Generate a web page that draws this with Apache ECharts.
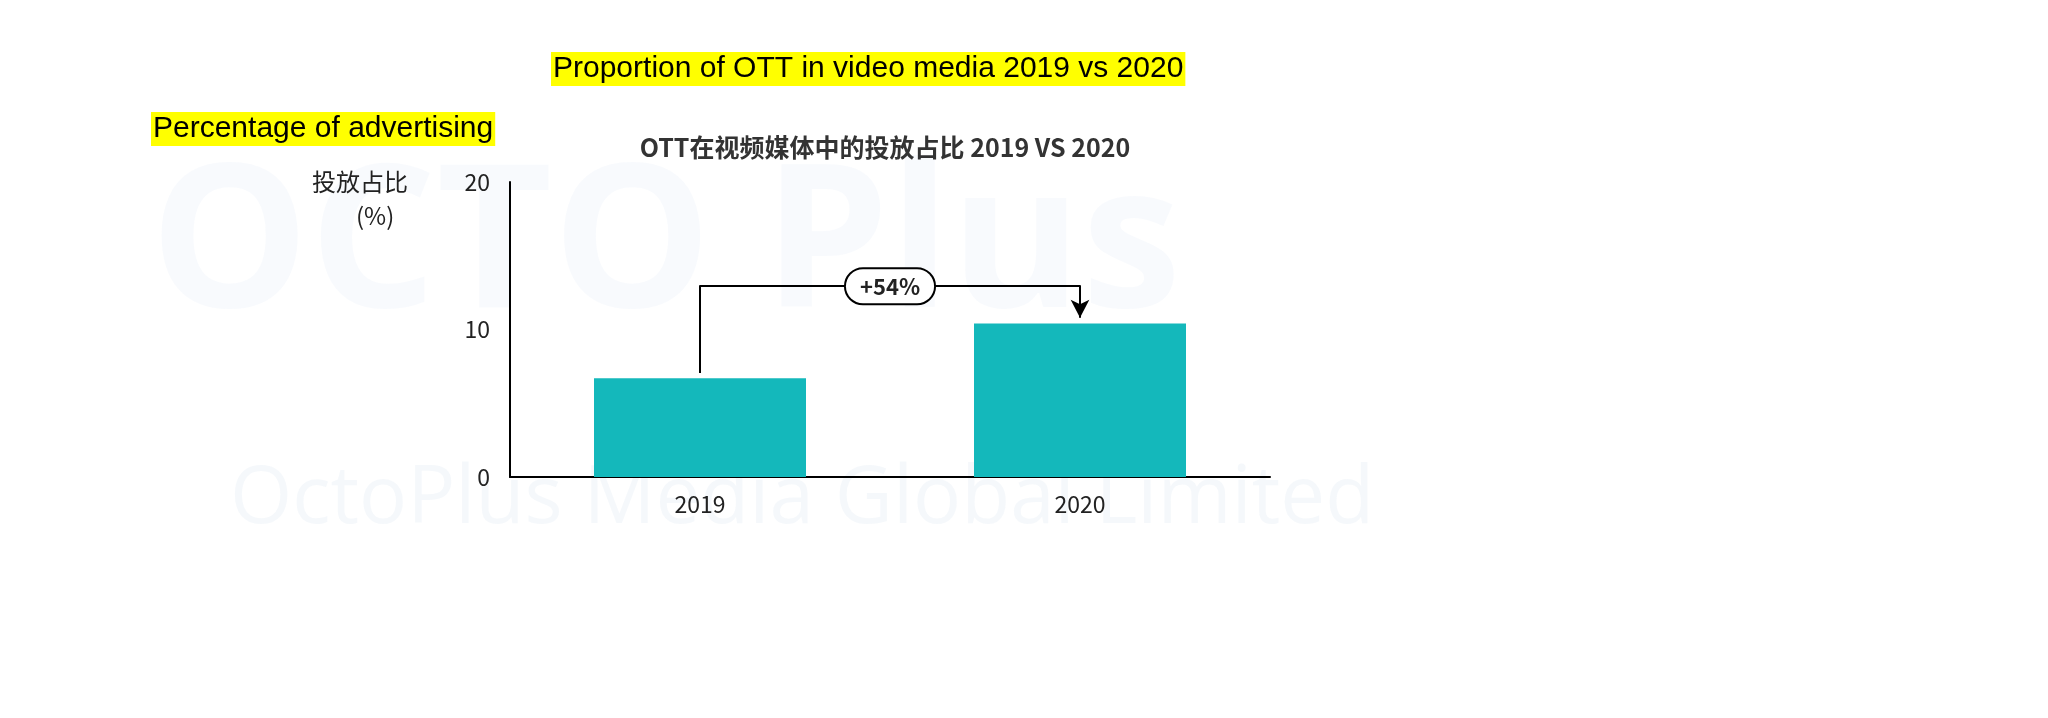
<!DOCTYPE html>
<html>
<head>
<meta charset="utf-8">
<script src="https://cdn.jsdelivr.net/npm/echarts@6/dist/echarts.min.js"></script>
<style>html,body{margin:0;padding:0;background:#fff}#main{width:2048px;height:718px}</style>
</head>
<body>
<div id="main"></div>
<script>
// 数据
var categories = ['2019', '2020'];
var shares = [6.7, 10.4];
var yTicks = [0, 10, 20];
var growthLabel = '+54%';
var bracketTop = 13.0;

(function(){
    var chart = echarts.init(document.getElementById('main'));
    var cjk = '"Noto Sans CJK SC", "Noto Sans", sans-serif';

    option = {
        backgroundColor: '#fff',
        animation: false,
        title: {
            text: 'OTT在视频媒体中的投放占比 2019 VS 2020',
            left: 880, top: 130, textAlign: 'center',
            textStyle: { fontFamily: cjk, fontSize: 25, fontWeight: 'bold', color: '#333' }
        },
        grid: { left: 510, right: 778, top: 182, bottom: 241 },
        xAxis: {
            type: 'category',
            data: categories,
            axisLine: { lineStyle: { color: '#000', width: 2 } },
            axisTick: { show: false },
            axisLabel: { fontFamily: cjk, fontSize: 23, color: '#222', margin: 16 }
        },
        yAxis: {
            type: 'value', min: 0, max: 20, interval: 10,
            axisLine: { show: true, lineStyle: { color: '#000', width: 2 } },
            axisTick: { show: false },
            splitLine: { show: false },
            axisLabel: {
                fontFamily: cjk, fontSize: 23, color: '#222', margin: 20,
                formatter: function(v){ return yTicks.indexOf(v) >= 0 ? v : ''; }
            }
        },
        graphic: [
            { type: 'text', left: 551, top: 52, style: { text: 'Proportion of OTT in video media 2019 vs 2020', font: '30px "Liberation Sans", Arial', fill: '#000', backgroundColor: '#ffff00', padding: [2, 2] } },
            { type: 'text', left: 151, top: 112, style: { text: 'Percentage of advertising', font: '30px "Liberation Sans", Arial', fill: '#000', backgroundColor: '#ffff00', padding: [2, 2] } },
            { type: 'text', left: 312, top: 170, style: { text: '投放占比', font: '24px ' + cjk, fill: '#222' } },
            { type: 'text', left: 356, top: 204, style: { text: '(%)', font: '24px ' + cjk, fill: '#222' } },
            { type: 'text', left: 150, top: 150, z: -1, style: { text: 'OCTO Plus', font: 'bold 200px "Open Sans"', fill: 'rgba(200,215,235,0.12)' } },
            { type: 'text', left: 230, top: 460, z: -1, style: { text: 'OctoPlus Media Global Limited', font: '80px "Open Sans"', fill: 'rgba(200,215,235,0.18)' } }
        ],
        series: [{
            type: 'bar',
            data: shares,
            barWidth: 212,
            itemStyle: { color: '#14b8bb' },
            markLine: {
                silent: true,
                symbol: ['none', 'none'],
                lineStyle: { color: '#000', width: 2, type: 'solid' },
                label: { show: false },
                data: [
                    [{ coord: [categories[0], shares[0] + 0.35] }, { coord: [categories[0], bracketTop] }],
                    [{ coord: [categories[0], bracketTop], label: {
                        show: true, position: 'middle', formatter: growthLabel,
                        fontFamily: cjk, fontSize: 22, fontWeight: 'bold', color: '#222',
                        backgroundColor: '#fff', borderColor: '#000', borderWidth: 2,
                        borderRadius: 22, padding: [6, 14], distance: -18
                    } }, { coord: [categories[1], bracketTop] }],
                    [{ coord: [categories[1], bracketTop], symbol: 'none' }, { coord: [categories[1], shares[1] + 0.4], symbol: 'arrow', symbolSize: [14, 18] }]
                ]
            }
        }]
    };

    chart.setOption(option);
})();
</script>
</body>
</html>
